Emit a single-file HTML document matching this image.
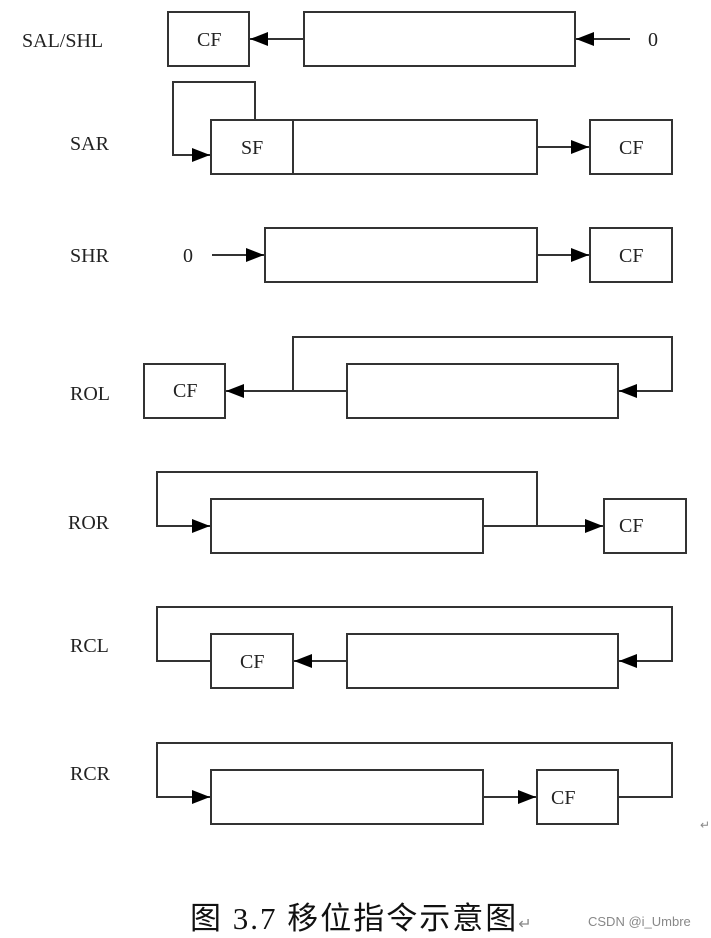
<!DOCTYPE html>
<html><head><meta charset="utf-8"><style>
html,body{margin:0;padding:0;background:#fff;}
svg{display:block}
text{font-family:"Liberation Serif","Noto Serif CJK SC",serif;fill:#222}
</style></head><body>
<svg width="711" height="938" viewBox="0 0 711 938" xmlns="http://www.w3.org/2000/svg">
<defs>
<marker id="a" markerWidth="18" markerHeight="14" refX="18" refY="7" orient="auto" markerUnits="userSpaceOnUse">
<path d="M0,0 L18,7 L0,14 Z" fill="#000"/></marker>
</defs>
<g fill="none" stroke="#333" stroke-width="2">
<rect x="168" y="12" width="81" height="54"/>
<rect x="304" y="12" width="271" height="54"/>
<line x1="304" y1="39" x2="250" y2="39" marker-end="url(#a)"/>
<line x1="630" y1="39" x2="576" y2="39" marker-end="url(#a)"/>
<rect x="211" y="120" width="326" height="54"/>
<line x1="293" y1="120" x2="293" y2="174"/>
<rect x="590" y="120" width="82" height="54"/>
<polyline points="255,120 255,82 173,82 173,155 210,155" marker-end="url(#a)"/>
<line x1="537" y1="147" x2="589" y2="147" marker-end="url(#a)"/>
<rect x="265" y="228" width="272" height="54"/>
<rect x="590" y="228" width="82" height="54"/>
<line x1="212" y1="255" x2="264" y2="255" marker-end="url(#a)"/>
<line x1="537" y1="255" x2="589" y2="255" marker-end="url(#a)"/>
<rect x="144" y="364" width="81" height="54"/>
<rect x="347" y="364" width="271" height="54"/>
<line x1="347" y1="391" x2="226" y2="391" marker-end="url(#a)"/>
<polyline points="293,391 293,337 672,337 672,391 619,391" marker-end="url(#a)"/>
<rect x="211" y="499" width="272" height="54"/>
<rect x="604" y="499" width="82" height="54"/>
<line x1="483" y1="526" x2="603" y2="526" marker-end="url(#a)"/>
<polyline points="537,526 537,472 157,472 157,526 210,526" marker-end="url(#a)"/>
<rect x="211" y="634" width="82" height="54"/>
<rect x="347" y="634" width="271" height="54"/>
<line x1="347" y1="661" x2="294" y2="661" marker-end="url(#a)"/>
<polyline points="211,661 157,661 157,607 672,607 672,661 619,661" marker-end="url(#a)"/>
<rect x="211" y="770" width="272" height="54"/>
<rect x="537" y="770" width="81" height="54"/>
<line x1="483" y1="797" x2="536" y2="797" marker-end="url(#a)"/>
<polyline points="618,797 672,797 672,743 157,743 157,797 210,797" marker-end="url(#a)"/>
</g>
<g font-size="20">
<text x="22" y="47">SAL/SHL</text>
<text x="70" y="150">SAR</text>
<text x="70" y="262">SHR</text>
<text x="70" y="400">ROL</text>
<text x="68" y="529">ROR</text>
<text x="70" y="652">RCL</text>
<text x="70" y="780">RCR</text>
<text x="197" y="46">CF</text>
<text x="648" y="46">0</text>
<text x="241" y="154">SF</text>
<text x="619" y="154">CF</text>
<text x="183" y="262">0</text>
<text x="619" y="262">CF</text>
<text x="173" y="397">CF</text>
<text x="619" y="532">CF</text>
<text x="240" y="668">CF</text>
<text x="551" y="804">CF</text>
</g>
<text x="700" y="829" font-size="12" style="fill:#888">↵</text>
<text x="190" y="929" style="font-size:31px;letter-spacing:2px;fill:#111;font-family:'Liberation Serif','Noto Sans CJK SC',sans-serif">图 3.7 移位指令示意图<tspan style="font-size:16px;fill:#888">↵</tspan></text>
<text x="588" y="926" style="font-size:13px;fill:#888;font-family:'Liberation Sans',sans-serif">CSDN @i_Umbre</text>
</svg>
</body></html>
